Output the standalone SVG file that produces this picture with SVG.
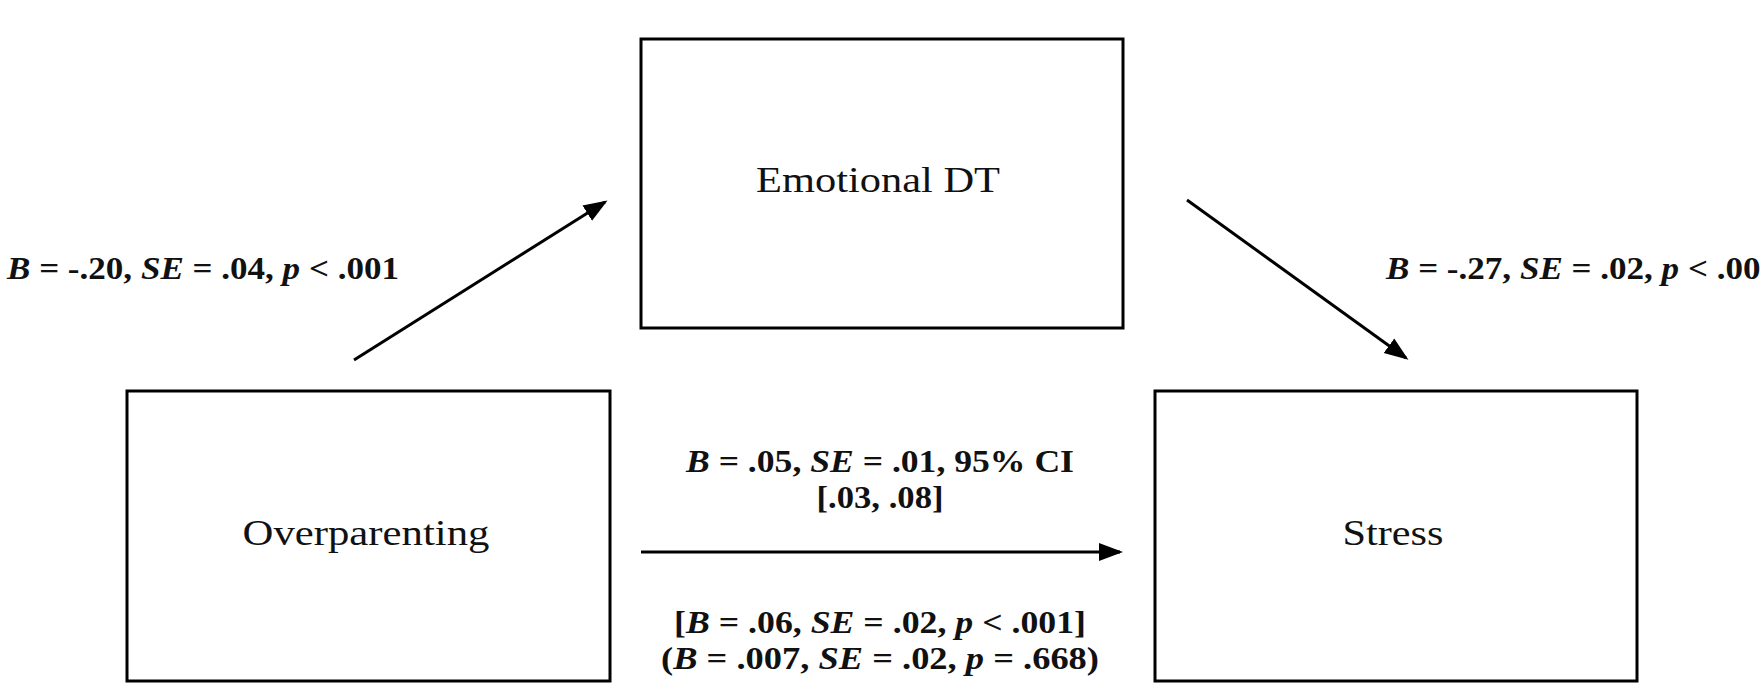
<svg xmlns="http://www.w3.org/2000/svg" width="1762" height="699" viewBox="0 0 1762 699">
<style>
.box{fill:#fff;stroke:#000;stroke-width:3}
.lbl{font-family:"Liberation Serif",serif;font-size:36px;text-anchor:middle;fill:#111}
.st{font-family:"Liberation Serif",serif;font-size:31px;font-weight:bold;fill:#111}
.c{stroke:#000;stroke-width:3;fill:none;marker-end:url(#ah)}
</style>
<defs><marker id="ah" markerWidth="8" markerHeight="8" refX="7" refY="4" orient="auto" markerUnits="strokeWidth"><path d="M0,1 L8,4 L0,7 Z" fill="#000"/></marker></defs>
<rect width="1762" height="699" fill="#fff"/>
<g id="emotional"><rect class="box" x="641" y="39" width="482" height="289"/><text class="lbl" x="878" y="192" textLength="244" lengthAdjust="spacingAndGlyphs">Emotional DT</text></g>
<g id="overparenting"><rect class="box" x="127" y="391" width="483" height="290"/><text class="lbl" x="366" y="545" textLength="247" lengthAdjust="spacingAndGlyphs">Overparenting</text></g>
<g id="stress"><rect class="box" x="1155" y="391" width="482" height="290"/><text class="lbl" x="1393" y="545" textLength="101" lengthAdjust="spacingAndGlyphs">Stress</text></g>
<g id="connectors">
<line class="c" x1="354" y1="360" x2="605" y2="202"/>
<line class="c" x1="1187" y1="200" x2="1406" y2="358"/>
<line class="c" x1="641" y1="552" x2="1120" y2="552"/>
</g>
<g id="labels">
<text class="st" x="7" y="279" textLength="392" lengthAdjust="spacingAndGlyphs"><tspan font-style="italic">B</tspan> = -.20, <tspan font-style="italic">SE</tspan> = .04, <tspan font-style="italic">p</tspan> &lt; .001</text>
<text class="st" x="1386" y="279" textLength="392" lengthAdjust="spacingAndGlyphs"><tspan font-style="italic">B</tspan> = -.27, <tspan font-style="italic">SE</tspan> = .02, <tspan font-style="italic">p</tspan> &lt; .001</text>
<text class="st" x="880" y="472" text-anchor="middle" textLength="388" lengthAdjust="spacingAndGlyphs"><tspan font-style="italic">B</tspan> = .05, <tspan font-style="italic">SE</tspan> = .01, 95% CI</text>
<text class="st" x="880" y="508" text-anchor="middle" textLength="127" lengthAdjust="spacingAndGlyphs">[.03, .08]</text>
<text class="st" x="880" y="633" text-anchor="middle" textLength="412" lengthAdjust="spacingAndGlyphs">[<tspan font-style="italic">B</tspan> = .06, <tspan font-style="italic">SE</tspan> = .02, <tspan font-style="italic">p</tspan> &lt; .001]</text>
<text class="st" x="880" y="669" text-anchor="middle" textLength="438" lengthAdjust="spacingAndGlyphs">(<tspan font-style="italic">B</tspan> = .007, <tspan font-style="italic">SE</tspan> = .02, <tspan font-style="italic">p</tspan> = .668)</text>
</g>
</svg>
